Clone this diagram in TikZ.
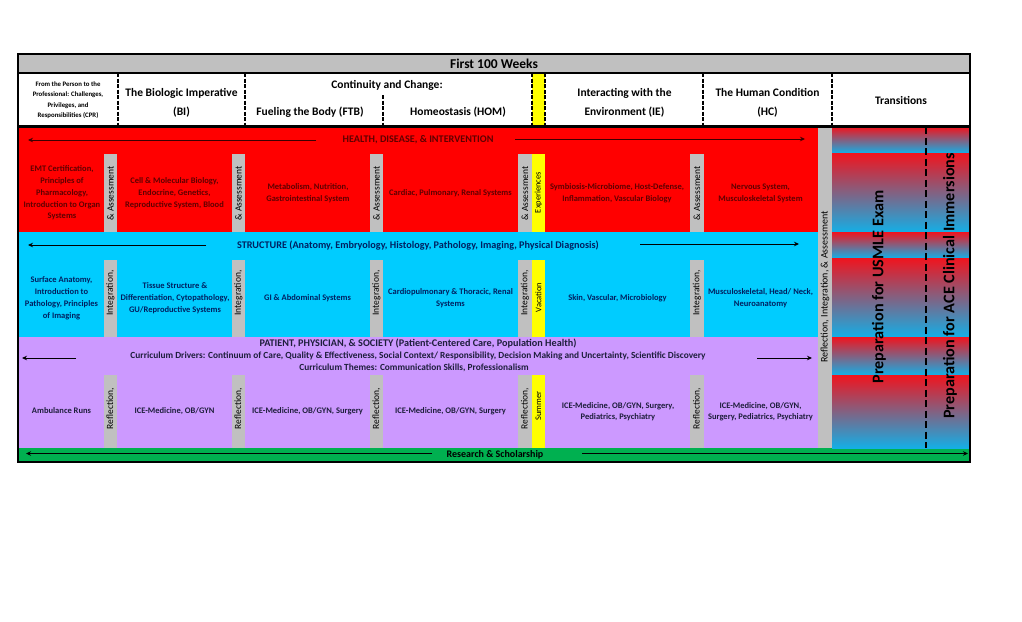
\documentclass[tikz,border=0pt]{standalone}
\usepackage{fontspec}
\setmainfont{Carlito}
\usetikzlibrary{arrows.meta}
\definecolor{redc}{RGB}{255,0,0}
\definecolor{bluec}{RGB}{0,204,255}
\definecolor{purc}{RGB}{204,153,255}
\definecolor{grnc}{RGB}{0,176,80}
\definecolor{grayc}{RGB}{192,192,192}
\definecolor{yelc}{RGB}{255,255,0}
\definecolor{rtxt}{RGB}{95,0,0}
\definecolor{btxt}{RGB}{0,32,96}
\definecolor{ptxt}{RGB}{30,30,60}
\definecolor{tred}{RGB}{240,20,30}
\definecolor{tblue}{RGB}{20,175,230}
\definecolor{rarrow}{RGB}{60,0,0}
\newcommand{\fsz}[2]{\fontsize{#1}{#2}\selectfont}
\begin{document}
\begin{tikzpicture}[x=1pt,y=-1pt,
  txt/.style={inner sep=0pt, align=center},
  hdr/.style={txt, font=\bfseries\fsz{11.5}{19.5}},
  rcell/.style={txt, font=\bfseries\fsz{8.5}{11.8}, text=rtxt},
  bcell/.style={txt, font=\bfseries\fsz{8.5}{11.8}, text=btxt},
  pcell/.style={txt, font=\bfseries\fsz{8.5}{11.4}, text=ptxt},
  gtxt/.style={txt, rotate=90, font=\fsz{9.5}{10}},
  ytxt/.style={txt, rotate=90, font=\fsz{8.5}{9}},
  ttl/.style={txt, font=\bfseries\fsz{10.2}{12}},
  bigtxt/.style={txt, rotate=90, font=\bfseries\fsz{16.2}{18}},
  arr/.style={line width=0.9pt, -{Stealth[length=5pt,width=4.5pt]}},
  hdash/.style={line width=1.1pt, dash pattern=on 4pt off 1.5pt},
]
\useasboundingbox (0,0) rectangle (1022,621);
\fill[white] (0,0) rectangle (1022,621);

% backgrounds
\fill[grayc] (18,54) rectangle (970,73);
\fill[white] (18,73) rectangle (970,127);
\fill[redc] (18,127) rectangle (818,232);
\fill[bluec] (18,232) rectangle (818,337);
\fill[purc] (18,337) rectangle (818,448);
\fill[grnc] (18,448) rectangle (970,462);
\fill[grayc] (818,127) rectangle (832,448);
\fill[yelc] (532,73) rectangle (545,127);

% transitions gradients
\foreach \a/\b in {127/153,153/232,232/258,258/337,337/375,375/448}
  \shade[top color=tred, bottom color=tblue] (832,\a) rectangle (970,\b);

% gray and yellow columns in each band
\foreach \a/\b in {154/232,260/337,375/448}{
  \foreach \l/\r in {104/117,232/245,370/383,518/532,690/704}
    \fill[grayc] (\l,\a) rectangle (\r,\b);
  \fill[yelc] (532,\a) rectangle (545,\b);
}

% header separators
\foreach \xx in {118,245,532,545,703,832}
  \draw[hdash] (\xx,73) -- (\xx,127);
\draw[hdash] (383,95) -- (383,127);
\draw[line width=1.4pt, dash pattern=on 7pt off 3.5pt] (926,127) -- (926,448);

% frame lines
\draw[line width=2.4pt] (18,73) -- (970,73);
\draw[line width=2.2pt] (18,126.5) -- (970,126.5);
\draw[line width=1.8pt] (18,54) rectangle (970,462);

% title and header texts
\node[txt, font=\bfseries\fsz{13.5}{15}] (title) at (494,64) {First 100 Weeks};
\node[txt, font=\bfseries\fsz{6.8}{10.5}] (cpr) at (68,100) {From the Person to the\\Professional: Challenges,\\Privileges, and\\Responsibilities (CPR)};
\node[hdr] (bi) at (181.5,103) {The Biologic Imperative\\(BI)};
\node[hdr] (cc) at (387,85.5) {Continuity and Change:};
\node[hdr] (ftb) at (310,112) {Fueling the Body (FTB)};
\node[hdr] (hom) at (458,112) {Homeostasis (HOM)};
\node[hdr] (ie) at (624.5,103) {Interacting with the\\Environment (IE)};
\node[hdr] (hc) at (767.5,103) {The Human Condition\\(HC)};
\node[hdr] (tr) at (901,100) {Transitions};

% red band
\node[ttl, text=rtxt] (rt) at (418,140) {HEALTH, DISEASE, \& INTERVENTION};
\coordinate (rl1) at (316,140); \coordinate (rl2) at (28,140);
\coordinate (rr1) at (515,139); \coordinate (rr2) at (805,139);
\draw[arr, rarrow] (rl1) -- (rl2);
\draw[arr, rarrow] (rr1) -- (rr2);
\node[rcell] (r1) at (62,193) {EMT Certification,\\Principles of\\Pharmacology,\\Introduction to Organ\\Systems};
\node[rcell] (r2) at (174.5,193.3) {Cell \& Molecular Biology,\\Endocrine, Genetics,\\Reproductive System, Blood};
\node[rcell] (r3) at (308,193) {Metabolism, Nutrition,\\Gastrointestinal System};
\node[rcell] (r4) at (450.5,193) {Cardiac, Pulmonary, Renal Systems};
\node[rcell] (r5) at (617,193.5) {Symbiosis-Microbiome, Host-Defense,\\Inflammation, Vascular Biology};
\node[rcell] (r6) at (760.5,193.3) {Nervous System,\\Musculoskeletal System};
\foreach \xx [count=\i] in {110.5,238.5,376.5,525,697}
  \node[gtxt] (ra\i) at (\xx,193.5) {\& Assessment};
\node[ytxt] (rexp) at (538.5,192.5) {Experiences};

% blue band
\node[ttl, text=btxt] (bt) at (418,245.5) {STRUCTURE (Anatomy, Embryology, Histology, Pathology, Imaging, Physical Diagnosis)};
\coordinate (bl1) at (206,245); \coordinate (bl2) at (28,245);
\coordinate (br1) at (640,244); \coordinate (br2) at (799,244);
\draw[arr] (bl1) -- (bl2);
\draw[arr] (br1) -- (br2);
\node[bcell] (b1) at (61.5,298.3) {Surface Anatomy,\\Introduction to\\Pathology, Principles\\of Imaging};
\node[bcell] (b2) at (175,298.3) {Tissue Structure \&\\Differentiation, Cytopathology,\\GU/Reproductive Systems};
\node[bcell] (b3) at (307.5,298.3) {GI \& Abdominal Systems};
\node[bcell] (b4) at (450.5,298.3) {Cardiopulmonary \& Thoracic, Renal\\Systems};
\node[bcell] (b5) at (617.5,298.3) {Skin, Vascular, Microbiology};
\node[bcell] (b6) at (760.5,298.3) {Musculoskeletal, Head/ Neck,\\Neuroanatomy};
\foreach \xx [count=\i] in {110.5,238.5,376.5,525,697}
  \node[gtxt] (bi\i) at (\xx,293) {Integration,};
\node[ytxt] (bvac) at (538.5,297.5) {Vacation};

% purple band
\node[ttl, text=ptxt] (pt1) at (418,344) {PATIENT, PHYSICIAN, \& SOCIETY (Patient-Centered Care, Population Health)};
\node[txt, font=\bfseries\fsz{9.35}{10}, text=ptxt] (pt2) at (418,356) {Curriculum Drivers: Continuum of Care, Quality \& Effectiveness, Social Context/ Responsibility, Decision Making and Uncertainty, Scientific Discovery};
\node[txt, font=\bfseries\fsz{9.35}{10}, text=ptxt] (pt3) at (414,368) {Curriculum Themes: Communication Skills, Professionalism};
\coordinate (pl1) at (76,358); \coordinate (pl2) at (22,358);
\coordinate (pr1) at (757,358); \coordinate (pr2) at (812,358);
\draw[arr] (pl1) -- (pl2);
\draw[arr] (pr1) -- (pr2);
\node[pcell] (p1) at (61.5,411) {Ambulance Runs};
\node[pcell] (p2) at (174.5,411) {ICE-Medicine, OB/GYN};
\node[pcell] (p3) at (307.5,411) {ICE-Medicine, OB/GYN, Surgery};
\node[pcell] (p4) at (450.5,411) {ICE-Medicine, OB/GYN, Surgery};
\node[pcell] (p5) at (618,411.7) {ICE-Medicine, OB/GYN, Surgery,\\Pediatrics, Psychiatry};
\node[pcell] (p6) at (760.5,411.7) {ICE-Medicine, OB/GYN,\\Surgery, Pediatrics, Psychiatry};
\foreach \xx [count=\i] in {110.5,238.5,376.5,525,697}
  \node[gtxt] (pr\i) at (\xx,408.5) {Reflection,};
\node[ytxt] (psum) at (538.5,406) {Summer};

% big gray column
\node[gtxt, font=\fsz{10}{11}] (rig) at (825,287) {Reflection, Integration, \& Assessment};

% transitions texts
\node[bigtxt] (usmle) at (879,287) {Preparation for USMLE Exam};
\node[bigtxt] (ace) at (950,286) {Preparation for ACE Clinical Immersions};

% green bar
\node[txt, font=\bfseries\fsz{10}{11}] (rs) at (495,454.5) {Research \& Scholarship};
\coordinate (gl1) at (432,453.5); \coordinate (gl2) at (26,453.5);
\coordinate (gr1) at (582,453.5); \coordinate (gr2) at (968,453.5);
\draw[arr] (gl1) -- (gl2);
\draw[arr] (gr1) -- (gr2);
\end{tikzpicture}
\end{document}
